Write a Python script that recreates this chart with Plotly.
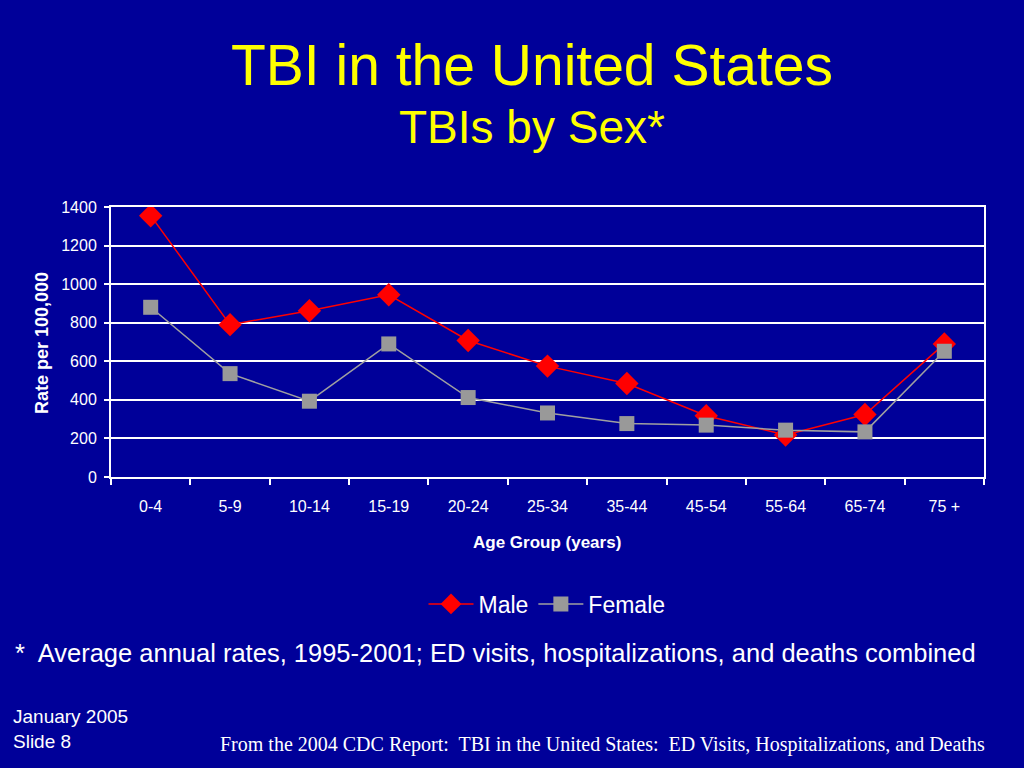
import plotly.graph_objects as go

categories = ["0-4", "5-9", "10-14", "15-19", "20-24", "25-34", "35-44", "45-54", "55-64", "65-74", "75 +"]
male = [1355, 790, 862, 945, 708, 575, 485, 318, 218, 324, 690]
female = [880, 536, 393, 690, 412, 332, 277, 269, 243, 234, 652]
y_ticks = [0, 200, 400, 600, 800, 1000, 1200, 1400]

BG = "#000099"
W, H = 1024, 768
L, R, T, B = 111, 984, 207, 477

def px(x):
    return (x - L) / (R - L)

def py(y):
    return (B - y) / (B - T)

fig = go.Figure()
fig.add_trace(go.Scatter(
    x=categories, y=male, name="Male", mode="lines+markers",
    line=dict(color="#FF0000", width=1.5),
    marker=dict(symbol="diamond", size=18, color="#FF0000"),
))
fig.add_trace(go.Scatter(
    x=categories, y=female, name="Female", mode="lines+markers",
    line=dict(color="#A0A0A0", width=1.5),
    marker=dict(symbol="square", size=15, color="#999999"),
))

font_sans = "Liberation Sans, Arial, sans-serif"

fig.update_layout(
    width=W, height=H,
    paper_bgcolor=BG, plot_bgcolor=BG,
    margin=dict(l=L, r=W - R, t=T, b=H - B, pad=0),
    font=dict(family=font_sans, color="white"),
    showlegend=True,
    legend=dict(
        orientation="h", x=px(547), xanchor="center", y=py(604), yanchor="middle",
        font=dict(size=23, color="white"), bgcolor="rgba(0,0,0,0)",
        itemwidth=45, tracegroupgap=0,
    ),
    xaxis=dict(
        type="category", range=[-0.5, len(categories) - 0.5],
        showgrid=False, showline=True, linecolor="white", linewidth=2, mirror=True,
        ticks="outside", tickson="boundaries", ticklen=6, tickcolor="white", tickwidth=2,
        tickfont=dict(size=16, color="white"), ticklabelstandoff=14,
        zeroline=False,
    ),
    yaxis=dict(
        range=[0, 1400], tickvals=y_ticks, showgrid=True, gridcolor="white", gridwidth=2,
        showline=True, linecolor="white", linewidth=2, mirror=True,
        ticks="outside", ticklen=5, tickcolor="white", tickwidth=2,
        tickfont=dict(size=16, color="white"), ticklabelstandoff=4, zeroline=False,
    ),
)

ann = [
    dict(text="TBI in the United States", x=px(532), y=py(65), size=57, color="#FFFF00", family=font_sans),
    dict(text="TBIs by Sex*", x=px(532), y=py(127), size=46, color="#FFFF00", family=font_sans),
    dict(text="<b>Age Group (years)</b>", x=px(547), y=py(542), size=17, color="white", family=font_sans),
    dict(text="*  Average annual rates, 1995-2001; ED visits, hospitalizations, and deaths combined",
         x=px(495), y=py(653), size=25.5, color="white", family=font_sans),
    dict(text="From the 2004 CDC Report:  TBI in the United States:  ED Visits, Hospitalizations, and Deaths",
         x=px(602), y=py(744), size=20, color="white", family="Liberation Serif, Times New Roman, serif"),
]
for a in ann:
    fig.add_annotation(text=a["text"], xref="paper", yref="paper", x=a["x"], y=a["y"],
                       xanchor="center", yanchor="middle", showarrow=False,
                       font=dict(size=a["size"], color=a["color"], family=a["family"]))

fig.add_annotation(text="<b>Rate per 100,000</b>", xref="paper", yref="paper", x=px(42), y=py(343),
                   xanchor="center", yanchor="middle", showarrow=False, textangle=-90,
                   font=dict(size=18, color="white", family=font_sans))
fig.add_annotation(text="January 2005<br>Slide 8", xref="paper", yref="paper", x=px(11), y=py(729),
                   xanchor="left", yanchor="middle", showarrow=False, align="left",
                   font=dict(size=19, color="white", family=font_sans))

fig.write_html("out.html")
